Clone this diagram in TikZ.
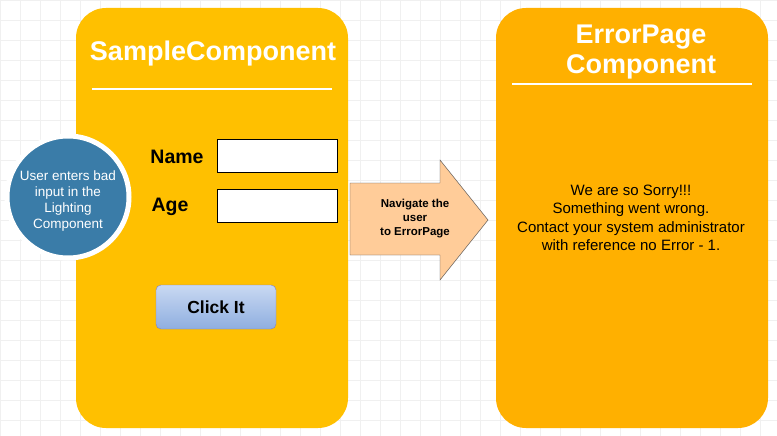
\documentclass[tikz,border=0pt]{standalone}
\usepackage{fontspec}
\setmainfont{Liberation Sans}
\begin{document}
\begin{tikzpicture}[x=1pt,y=-1pt]
\definecolor{boxA}{HTML}{FFC000}
\definecolor{boxB}{HTML}{FFB000}
\definecolor{circ}{HTML}{3A7CA8}
\definecolor{peach}{HTML}{FFCC99}
\definecolor{btnT}{HTML}{C9D9F2}
\definecolor{btnB}{HTML}{8FAEE0}
\tikzset{panel/.style={rounded corners=30pt},
 ttl/.style={text=white,font=\bfseries\fontsize{27}{30}\selectfont,align=center},
 lbl/.style={font=\bfseries\fontsize{19.5}{22}\selectfont},
 field/.style={draw=black,fill=white,minimum width=120pt,minimum height=33pt,inner sep=0pt}}
\fill[white] (0,0) rectangle (777,436);
\useasboundingbox (0,0) rectangle (777,436);
\draw[black!6,step=20pt] (0,0) grid (777,436);
% left panel
\fill[boxA,panel] (76,8) rectangle (348,428);
\node[ttl] (t1) at (213,54) {SampleComponent};
\draw[white,line width=1.2pt] (92,89) coordinate (l1a) -- (332,89) coordinate (l1b);
\node[lbl] (name) at (177,157) {Name};
\node[field] (f1) at (277,156) {};
\node[lbl] (age) at (170,207) {Age};
\node[field] (f2) at (277,206) {};
\node[draw=black!45!blue!50,top color=btnT,bottom color=btnB,rounded corners=5pt,minimum width=120pt,minimum height=44pt,font=\bfseries\fontsize{17.5}{20}\selectfont] (btn) at (216,307) {Click It};
% circle
\node[circle,fill=circ,draw=white,line width=5pt,minimum size=122pt,inner sep=0pt] (c) at (68,197) {};
\node[text=white,align=center,font=\fontsize{13.5}{16}\selectfont] (ct) at (68,201) {User enters bad\\input in the\\Lighting\\Component};
% right panel
\fill[boxB,panel] (496,8) rectangle (768,428);
\node[ttl] (t2) at (641,52) {ErrorPage\\Component};
\draw[white,line width=1.2pt] (512,84) coordinate (l2a) -- (752,84) coordinate (l2b);
\node[align=center,font=\fontsize{15}{18.5}\selectfont] (msg) at (631,218) {We are so Sorry!!!\\Something went wrong.\\Contact your system administrator\\with reference no Error - 1.};
% arrow
\draw[fill=peach,draw=black!70] (350,183) -- (440,183) -- (440,160) -- (488,220) -- (440,280) -- (440,255) -- (350,255) -- cycle;
\node[align=center,font=\bfseries\fontsize{11.5}{14}\selectfont] (arr) at (415,219) {Navigate the\\user\\to ErrorPage};
\end{tikzpicture}
\end{document}
